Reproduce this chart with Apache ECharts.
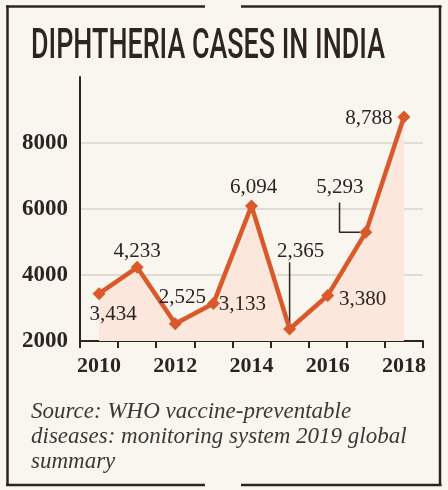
<!DOCTYPE html>
<html><head><meta charset="utf-8">
<script src="https://cdn.jsdelivr.net/npm/echarts@6/dist/echarts.min.js"></script>
<style>html,body{margin:0;padding:0;background:#f9f6f0;}#c{width:448px;height:490px;}</style>
</head><body><div id="c"></div>
<script>
// ---- data ----
const years = ['2010','2011','2012','2013','2014','2015','2016','2017','2018'];
const cases = [3434, 4233, 2525, 3133, 6094, 2365, 3380, 5293, 8788];
const yTicks = [2000, 4000, 6000, 8000];
const titleText = 'DIPHTHERIA CASES IN INDIA';
const sourceLines = ['Source: WHO vaccine-preventable', 'diseases: monitoring system 2019 global', 'summary'];
// callout leader lines (data space: year, cases)
const callout2015 = [[2015, 2365], [2015, 4385]];
const callout2017 = [[2016.31, 6200], [2016.31, 5293], [2016.86, 5293]];

// ---- layout / style ----
const labelOffsets = [[14,21],[0,-16],[7,-26],[29,1],[2,-18],[11,-77],[35,4],[-26,-45],[-35,1]];
const ink = '#2e2521';
const lineColor = '#d9592a';

function fmt(v){ return v.toLocaleString('en-US'); }

const titleFont = '500 42px Roboto';
const cv = document.createElement('canvas').getContext('2d');
cv.font = titleFont;
const titleW = cv.measureText(titleText).width;
const titleScale = 354 / titleW;

const chart = echarts.init(document.getElementById('c'), null, {renderer:'canvas'});
const option = {
  backgroundColor: '#f9f6f0',
  animation: false,
  grid: {left: 80, right: 25, top: 77, bottom: 149, containLabel: false},
  xAxis: [{
    type: 'category', data: years, boundaryGap: true,
    axisLine: {lineStyle: {color: ink, width: 2}},
    axisTick: {show: true, interval: 0, length: 7, lineStyle: {color: ink, width: 2}},
    axisLabel: {interval: 1, fontFamily: 'Liberation Serif', fontWeight: 'bold', fontSize: 22, color: '#2b2421', margin: 14},
    splitLine: {show: false}
  }, {
    type: 'value', min: 2009.5, max: 2018.5, show: false
  }],
  yAxis: {
    type: 'value', min: yTicks[0], max: 10000, interval: 2000,
    axisLine: {show: true, lineStyle: {color: ink, width: 2}},
    axisTick: {show: false},
    axisLabel: {formatter: v => (yTicks.indexOf(v) >= 0 ? String(v) : ''), fontFamily: 'Liberation Serif', fontWeight: 'bold', fontSize: 23, color: '#2b2421', margin: 12},
    splitLine: {show: true, lineStyle: {color: ['rgba(0,0,0,0)', '#d6d2cc', '#d6d2cc', '#d6d2cc', 'rgba(0,0,0,0)'], width: 1.5}}
  },
  series: [{
    type: 'line', xAxisIndex: 1, data: callout2015, symbol: 'none', z: 1, silent: true,
    lineStyle: {color: ink, width: 1.5}
  }, {
    type: 'line', xAxisIndex: 1, data: callout2017, symbol: 'none', z: 1, silent: true,
    lineStyle: {color: ink, width: 1.5}
  }, {
    type: 'line', xAxisIndex: 0, z: 3,
    data: cases.map((v, i) => ({value: v, label: {offset: labelOffsets[i]}})),
    symbol: 'diamond', symbolSize: 13,
    itemStyle: {color: lineColor},
    lineStyle: {color: lineColor, width: 4.5},
    areaStyle: {color: '#fce7dc', opacity: 1},
    label: {show: true, position: 'inside', formatter: p => fmt(p.value), fontFamily: 'Liberation Serif', fontSize: 21, color: '#2b2421', align: 'center', verticalAlign: 'middle'}
  }],
  graphic: [
    {type: 'line', shape: {x1: 6, y1: 6.5, x2: 205, y2: 6.5}, style: {stroke: ink, lineWidth: 2.5}},
    {type: 'line', shape: {x1: 241, y1: 6.5, x2: 441.5, y2: 6.5}, style: {stroke: ink, lineWidth: 2.5}},
    {type: 'line', shape: {x1: 7.5, y1: 5.5, x2: 7.5, y2: 486}, style: {stroke: ink, lineWidth: 2.5}},
    {type: 'line', shape: {x1: 440, y1: 5.5, x2: 440, y2: 486}, style: {stroke: ink, lineWidth: 2.5}},
    {type: 'line', shape: {x1: 6, y1: 485, x2: 205, y2: 485}, style: {stroke: ink, lineWidth: 2.5}},
    {type: 'line', shape: {x1: 241, y1: 485, x2: 441.5, y2: 485}, style: {stroke: ink, lineWidth: 2.5}},
    {type: 'text', x: 31, y: 47, scaleX: titleScale,
     style: {text: titleText, font: titleFont, fill: ink, textVerticalAlign: 'middle', verticalAlign: 'middle',
             shadowColor: 'rgba(230,140,80,0.6)', shadowOffsetX: -1, shadowBlur: 0}},
    {type: 'text', x: 31, y: 399,
     style: {text: sourceLines.join('\n'), font: 'italic 23px "Liberation Serif"', fill: '#3d3833', lineHeight: 25}}
  ]
};
chart.setOption(option);
</script></body></html>
